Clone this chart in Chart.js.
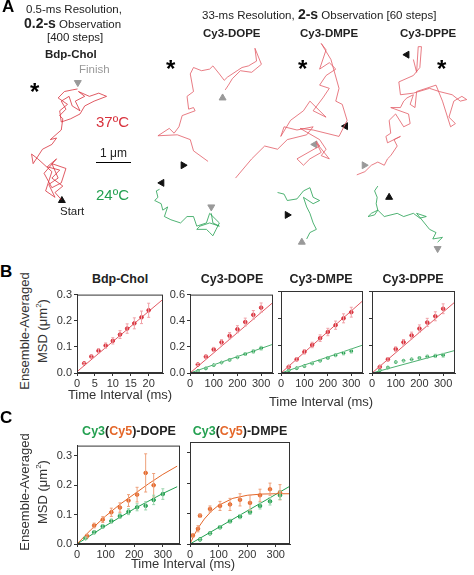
<!DOCTYPE html>
<html><head><meta charset="utf-8">
<script src="https://cdn.jsdelivr.net/npm/chart.js@4"></script>
<style>
body{margin:0;width:474px;height:575px;position:relative;background:#fff;font-family:"Liberation Sans",Arial,sans-serif;overflow:hidden}
.t{position:absolute;white-space:nowrap;color:#222;font-size:11px}
.c{transform:translateX(-50%)}
.b{font-weight:bold}
.box{position:absolute}
</style></head><body>
<script>
// ---------- DATA ----------
// Panel A trajectories (coordinates, arbitrary units)
const bdpChol = [[180,607],[160,585],[185,565],[150,540],[175,515],[135,505],[165,480],[125,525],[150,570],[180,555],[195,510],[150,495],[170,540],[140,560],[160,600],[130,580],[150,520],[105,480],[85,465],[90,495],[120,450],[150,435],[165,415],[145,420],[180,390],[185,355],[175,345],[195,325],[180,300],[205,285],[215,315],[240,330],[225,300],[255,285],[235,270],[270,285],[300,275],[325,285],[285,300],[255,315],[240,340],[210,355],[180,365],[175,330],[200,310],[170,290],[190,270],[215,265],[232,262]];
const dopeRed = [[195,488],[150,455],[140,420],[100,405],[40,408],[75,385],[90,400],[105,380],[115,345],[155,330],[150,320],[135,325],[130,285],[150,270],[140,215],[150,195],[175,205],[200,200],[210,190],[230,215],[245,235],[255,225],[285,205],[300,195],[320,190],[345,175],[340,135],[360,185],[330,210],[295,205],[270,230],[258,250],[248,265]];
const dmpeRed = [[280,540],[330,480],[370,440],[410,450],[440,420],[500,405],[520,380],[470,390],[430,380],[420,410],[450,360],[490,330],[510,300],[560,350],[520,330],[550,290],[570,260],[540,250],[560,220],[590,200],[570,180],[540,200],[560,140],[545,120],[575,170],[600,260],[590,300],[610,310],[625,360],[600,410],[520,390],[480,385],[540,420],[560,450],[545,470],[570,480],[530,430],[545,460],[510,480],[490,500],[470,480],[540,440],[530,425]];
const dppeRed = [[655,530],[680,520],[700,500],[720,490],[740,500],[750,480],[760,470],[780,440],[770,420],[790,410],[750,430],[745,410],[760,400],[755,360],[775,340],[800,380],[820,370],[815,340],[760,320],[790,320],[800,300],[810,290],[830,280],[820,310],[835,320],[840,270],[900,250],[920,300],[945,380],[960,370],[940,350],[955,300],[980,285],[995,295],[975,300],[950,280],[910,270],[880,260],[830,275],[790,280],[785,240],[830,220],[850,195],[855,130],[845,130],[840,210],[830,170]];
const dopeGreen = [[45,575],[35,580],[40,600],[30,610],[50,620],[55,640],[70,630],[60,660],[80,670],[110,680],[130,660],[150,660],[160,690],[190,680],[200,650],[230,680],[220,700],[210,720],[200,710],[190,700],[160,700],[170,690],[200,680],[230,690],[210,680],[205,650]];
const dmpeGreen = [[410,585],[430,590],[440,610],[470,605],[490,580],[510,570],[520,600],[540,610],[520,620],[490,600],[500,630],[510,650],[520,680],[530,700],[510,710],[500,730]];
const dppeGreen = [[720,565],[710,580],[718,600],[715,620],[720,640],[700,650],[690,660],[710,655],[720,640],[740,660],[780,650],[800,660],[830,650],[850,665],[870,660],[840,650],[880,700],[900,710],[890,730],[920,725],[905,740]];
// markers: [x,y,rotation]
const blackMarksL = [[182,610,0]];
const grayMarksL = [[233,242,180]];
const blackMarksR = [[118,500,-30],[620,378,-90],[810,155,150],[52,555,150],[440,655,-30],[755,600,0]];
const grayMarksR = [[240,290,0],[525,435,30],[678,500,-150],[205,630,180],[485,740,0],[905,760,180]];

// Panel B
const bdpX = [2,4,6,8,10,12,14,16,18,20];
const bdpY = [0.037,0.063,0.085,0.105,0.123,0.147,0.17,0.19,0.213,0.24];
const bdpE = [0.004,0.006,0.008,0.01,0.012,0.015,0.018,0.021,0.024,0.027];
const bdpFitX = [0,24], bdpFitY = [0.005,0.282];
const cyX = [33,67,100,133,167,200,233,267,300];
const dopeR = [0.065,0.125,0.18,0.235,0.285,0.335,0.39,0.445,0.5];
const dopeG = [0.015,0.035,0.06,0.08,0.10,0.12,0.145,0.165,0.19];
const dmpeR = [0.045,0.10,0.155,0.205,0.255,0.30,0.35,0.40,0.445];
const dmpeG = [0.02,0.035,0.05,0.07,0.09,0.11,0.13,0.145,0.16];
const dppeR = [0.045,0.10,0.175,0.225,0.275,0.325,0.37,0.415,0.47];
const dppeG = [0.02,0.04,0.08,0.09,0.10,0.11,0.12,0.125,0.13];
const cyRedErr = [0.008,0.012,0.016,0.02,0.024,0.027,0.03,0.033,0.036];
const cyGreenErr = [0.003,0.004,0.005,0.006,0.007,0.008,0.01,0.012,0.014];
const fitX = [0,350];
const dopeRFit = [0,0.54], dopeGFit = [0,0.22];
const dmpeRFit = [0,0.53], dmpeGFit = [0,0.205];
const dppeRFit = [0,0.52], dppeGFit = [0,0.165];

// Panel C
const cDopeOX = [35,60,90,120,150,180,210,240,268];
const cDopeOY = [0.027,0.063,0.083,0.108,0.124,0.148,0.168,0.242,0.20];
const cDopeOE = [0.006,0.008,0.01,0.014,0.016,0.02,0.025,0.065,0.04];
const cDopeGX = [30,60,90,120,150,180,210,240,268,300];
const cDopeGY = [0.02,0.04,0.06,0.078,0.095,0.11,0.125,0.13,0.15,0.17];
const cDopeGE = [0.004,0.005,0.006,0.007,0.008,0.01,0.012,0.014,0.016,0.018];
const cDopeOFitX = [0,50,100,150,200,250,300,350];
const cDopeOFitY = [0,0.05,0.095,0.135,0.17,0.205,0.237,0.265];
const cDopeGFitX = [0,100,200,300,350];
const cDopeGFitY = [0,0.062,0.12,0.172,0.195];
const cDmpeOX = [10,28,35,70,105,140,175,210,245,280,315];
const cDmpeOY = [0.028,0.05,0.093,0.115,0.125,0.13,0.145,0.135,0.16,0.18,0.17];
const cDmpeOE = [0.006,0.01,0.006,0.01,0.015,0.02,0.02,0.025,0.02,0.02,0.025];
const cDmpeGX = [35,70,105,140,175,210,245,280,315];
const cDmpeGY = [0.015,0.035,0.055,0.075,0.09,0.105,0.125,0.14,0.16];
const cDmpeGE = [0.003,0.004,0.005,0.006,0.007,0.008,0.01,0.012,0.014];
const cDmpeOFitX = [0,15,30,50,75,100,150,200,250,300,350];
const cDmpeOFitY = [0,0.03,0.055,0.082,0.108,0.127,0.15,0.16,0.164,0.165,0.165];
const cDmpeGFitX = [0,350];
const cDmpeGFitY = [0,0.19];

// ---------- HELPERS ----------
const RED='#d8313c', REDL='#e25a64', REDE='#f0a2a8', GRN='#23a050', GRNL='#4cb070', GRNE='#9ad4ac', ORG='#e4672a', ORGE='#eea07a';
const FONT = {family:'"Liberation Sans", Arial, sans-serif', size:11};
function pts(xs,ys){return xs.map((x,i)=>({x,y:ys[i]}));}
function arr2(a){return a.map(p=>({x:p[0],y:p[1]}));}
function text(s,x,y,cls,style){const d=document.createElement('div');d.className='t '+(cls||'');d.innerHTML=s;d.style.left=x+'px';d.style.top=y+'px';
  if(style)for(const k in style){const v=style[k];d.style[k]=(typeof v==='number'&&k!=='fontWeight')?v+'px':v;}
  document.body.appendChild(d);}
function canvasBox(l,t,w,h){const d=document.createElement('div');d.className='box';Object.assign(d.style,{left:l+'px',top:t+'px',width:w+'px',height:h+'px'});const c=document.createElement('canvas');d.appendChild(c);document.body.appendChild(d);return c;}

const errPlugin={id:'err',afterDatasetsDraw(ch){const ctx=ch.ctx;ch.data.datasets.forEach((ds,i)=>{if(!ds.err)return;const xs=ch.scales.x, ys=ch.scales.y;ctx.save();ctx.strokeStyle=ds.errColor;ctx.lineWidth=1;ds.data.forEach((p,j)=>{const e=ds.err[j];const px=xs.getPixelForValue(p.x);const y1=ys.getPixelForValue(p.y-e),y2=ys.getPixelForValue(p.y+e);ctx.beginPath();ctx.moveTo(px,y1);ctx.lineTo(px,y2);ctx.moveTo(px-1.5,y1);ctx.lineTo(px+1.5,y1);ctx.moveTo(px-1.5,y2);ctx.lineTo(px+1.5,y2);ctx.stroke();});ctx.restore();});}};
const framePlugin={id:'frame',afterDraw(ch){if(!ch.options.plugins.frame||!ch.options.plugins.frame.on)return;const a=ch.chartArea,ctx=ch.ctx;ctx.save();ctx.strokeStyle='#333';ctx.lineWidth=1;ctx.strokeRect(a.left+0.5,a.top+0.5,a.right-a.left-1,a.bottom-a.top-1);ctx.restore();}};
Chart.register(errPlugin,framePlugin);

function plot(rect,yw,xmin,xmax,xticks,ymin,ymax,yticks,datasets,showY){
  const [l,t,r,b]=rect; const xh=18;
  const cv=canvasBox(l-yw,t-4,r-l+yw+6,b-t+4+xh);
  new Chart(cv,{type:'scatter',data:{datasets},options:{animation:false,responsive:true,maintainAspectRatio:false,
    layout:{padding:{top:4,right:6,left:0,bottom:0}},
    plugins:{legend:{display:false},tooltip:{enabled:false},frame:{on:true}},
    scales:{
      x:{type:'linear',min:xmin,max:xmax,afterBuildTicks:s=>{s.ticks=xticks.map(v=>({value:v}));},afterFit:s=>{s.height=xh;},
        grid:{drawOnChartArea:false,tickLength:3,color:'#333'},border:{color:'#333'},ticks:{font:FONT,color:'#333',padding:1,maxRotation:0}},
      y:{type:'linear',min:ymin,max:ymax,afterBuildTicks:s=>{s.ticks=yticks.map(v=>({value:v}));},afterFit:s=>{s.width=yw;},
        grid:{drawOnChartArea:false,tickLength:3,color:'#333'},border:{color:'#333'},
        ticks:{display:showY,font:FONT,color:'#333',padding:2,callback:v=>v.toFixed(1)}}
    }}});
}
function line(xs,ys,c,w){return {data:pts(xs,ys),showLine:true,borderColor:c,borderWidth:w||1,pointRadius:0,order:2};}
function dots(xs,ys,e,c,ec,r){return {data:pts(xs,ys),showLine:false,backgroundColor:c,borderColor:c,pointRadius:r||1.8,err:e,errColor:ec,order:1};}

// ---------- PANEL A ----------
function trajChart(l,t,w,h,xmax,ymax,sets){
  const cv=canvasBox(l,t,w,h);
  new Chart(cv,{type:'scatter',data:{datasets:sets},options:{animation:false,responsive:true,maintainAspectRatio:false,layout:{padding:0},
    plugins:{legend:{display:false},tooltip:{enabled:false}},
    scales:{x:{display:false,min:0,max:xmax},y:{display:false,min:0,max:ymax,reverse:true}}}});
}
function traj(a,c){return {data:arr2(a),showLine:true,borderColor:c,borderWidth:0.8,pointRadius:0,tension:0};}
function marks(a,c){return {data:arr2(a),showLine:false,pointStyle:'triangle',pointRadius:4,backgroundColor:c,borderColor:c,pointRotation:a.map(p=>p[2])};}
trajChart(0,0,160,260,480,780,[traj(bdpChol,RED),marks(blackMarksL,'#111'),marks(grayMarksL,'#999')]);
trajChart(140,0,334,260,1002,780,[traj(dopeRed,REDL),traj(dmpeRed,REDL),traj(dppeRed,REDL),traj(dopeGreen,GRN),traj(dmpeGreen,GRN),traj(dppeGreen,GRN),marks(blackMarksR,'#111'),marks(grayMarksR,'#999')]);

text('A',2,-3,'b',{fontSize:17,color:'#000'});
text('0.5-ms Resolution,',26,3,'',{fontSize:11.5});
text('<b style="font-size:14px">0.2-s</b> Observation',24,15,'',{fontSize:11.5});
text('[400 steps]',47,31,'',{fontSize:11.5});
text('Bdp-Chol',45,48,'b',{fontSize:11.5});
text('Finish',79,63,'',{fontSize:11.5,color:'#999'});
text('*',30,78,'b',{fontSize:24,color:'#000'});
text('37ºC',96,113,'',{fontSize:15,color:RED});
text('1 μm',100,146,'',{fontSize:12});
text('',96,162,'',{width:35,borderTop:'1.5px solid #000'});
text('24ºC',96,186,'',{fontSize:15,color:GRN});
text('Start',60,205,'',{fontSize:11.5});
text('33-ms Resolution, <b style="font-size:14px">2-s</b> Observation [60 steps]',202,6,'',{fontSize:11.5});
text('Cy3-DOPE',203,27,'b',{fontSize:11.5});
text('Cy3-DMPE',300,27,'b',{fontSize:11.5});
text('Cy3-DPPE',400,27,'b',{fontSize:11.5});
text('*',166,55,'b',{fontSize:24,color:'#000'});
text('*',298,55,'b',{fontSize:24,color:'#000'});
text('*',437,55,'b',{fontSize:24,color:'#000'});

// ---------- PANEL B ----------
text('B',0,262,'b',{fontSize:17,color:'#000'});
text('Bdp-Chol',120,272,'b c',{fontSize:12.5});
text('Cy3-DOPE',232,272,'b c',{fontSize:12.5});
text('Cy3-DMPE',321,272,'b c',{fontSize:12.5});
text('Cy3-DPPE',413,272,'b c',{fontSize:12.5});
text('Ensemble-Averaged<br>MSD (μm<sup style="font-size:8px">2</sup>)',0,331,'',{fontSize:13,lineHeight:'14px',textAlign:'center',transform:'translate(-50%,-50%) rotate(-90deg)',left:'34px',color:'#333'});
plot([77,290,163,373],28,0,24,[0,5,10,15,20],0,0.3,[0,0.1,0.2,0.3],
  [line(bdpFitX,bdpFitY,REDL),dots(bdpX,bdpY,bdpE,RED,REDE)],true);
text('Time Interval (ms)',120,387,'c',{fontSize:13,color:'#333'});
plot([190,290,273,373],28,0,350,[0,100,200,300],0,0.6,[0,0.2,0.4,0.6],
  [line(fitX,dopeRFit,REDL),line(fitX,dopeGFit,GRNL),dots(cyX,dopeR,cyRedErr,RED,REDE),dots(cyX,dopeG,cyGreenErr,GRN,GRNE,1.4)],true);
plot([280,290,363,373],4,0,350,[0,100,200,300],0,0.6,[0,0.2,0.4,0.6],
  [line(fitX,dmpeRFit,REDL),line(fitX,dmpeGFit,GRNL),dots(cyX,dmpeR,cyRedErr,RED,REDE),dots(cyX,dmpeG,cyGreenErr,GRN,GRNE,1.4)],false);
plot([371,290,455,373],4,0,350,[0,100,200,300],0,0.6,[0,0.2,0.4,0.6],
  [line(fitX,dppeRFit,REDL),line(fitX,dppeGFit,GRNL),dots(cyX,dppeR,cyRedErr,RED,REDE),dots(cyX,dppeG,cyGreenErr,GRN,GRNE,1.4)],false);
text('Time Interval (ms)',321,394,'c',{fontSize:13,color:'#333'});

// ---------- PANEL C ----------
text('C',0,408,'b',{fontSize:17,color:'#000'});
text('<span style="color:'+GRN+'">Cy3</span>(<span style="color:'+ORG+'">Cy5</span>)-DOPE',129,424,'b c',{fontSize:12.5});
text('<span style="color:'+GRN+'">Cy3</span>(<span style="color:'+ORG+'">Cy5</span>)-DMPE',240,424,'b c',{fontSize:12.5});
text('Ensemble-Averaged<br>MSD (μm<sup style="font-size:8px">2</sup>)',0,492,'',{fontSize:13,lineHeight:'14px',textAlign:'center',transform:'translate(-50%,-50%) rotate(-90deg)',left:'34px',color:'#333'});
plot([77,441,180,544],28,0,360,[0,100,200,300],0,0.335,[0,0.1,0.2,0.3],
  [line(cDopeOFitX,cDopeOFitY,ORG),line(cDopeGFitX,cDopeGFitY,GRN),dots(cDopeOX,cDopeOY,cDopeOE,ORG,ORGE),dots(cDopeGX,cDopeGY,cDopeGE,GRN,GRNE)],true);
plot([189,441,290,544],4,0,350,[0,100,200,300],0,0.335,[0,0.1,0.2,0.3],
  [line(cDmpeOFitX,cDmpeOFitY,ORG),line(cDmpeGFitX,cDmpeGFitY,GRN),dots(cDmpeOX,cDmpeOY,cDmpeOE,ORG,ORGE),dots(cDmpeGX,cDmpeGY,cDmpeGE,GRN,GRNE)],false);
text('Time Interval (ms)',183,556,'c',{fontSize:13,color:'#333'});
</script>
</body></html>
